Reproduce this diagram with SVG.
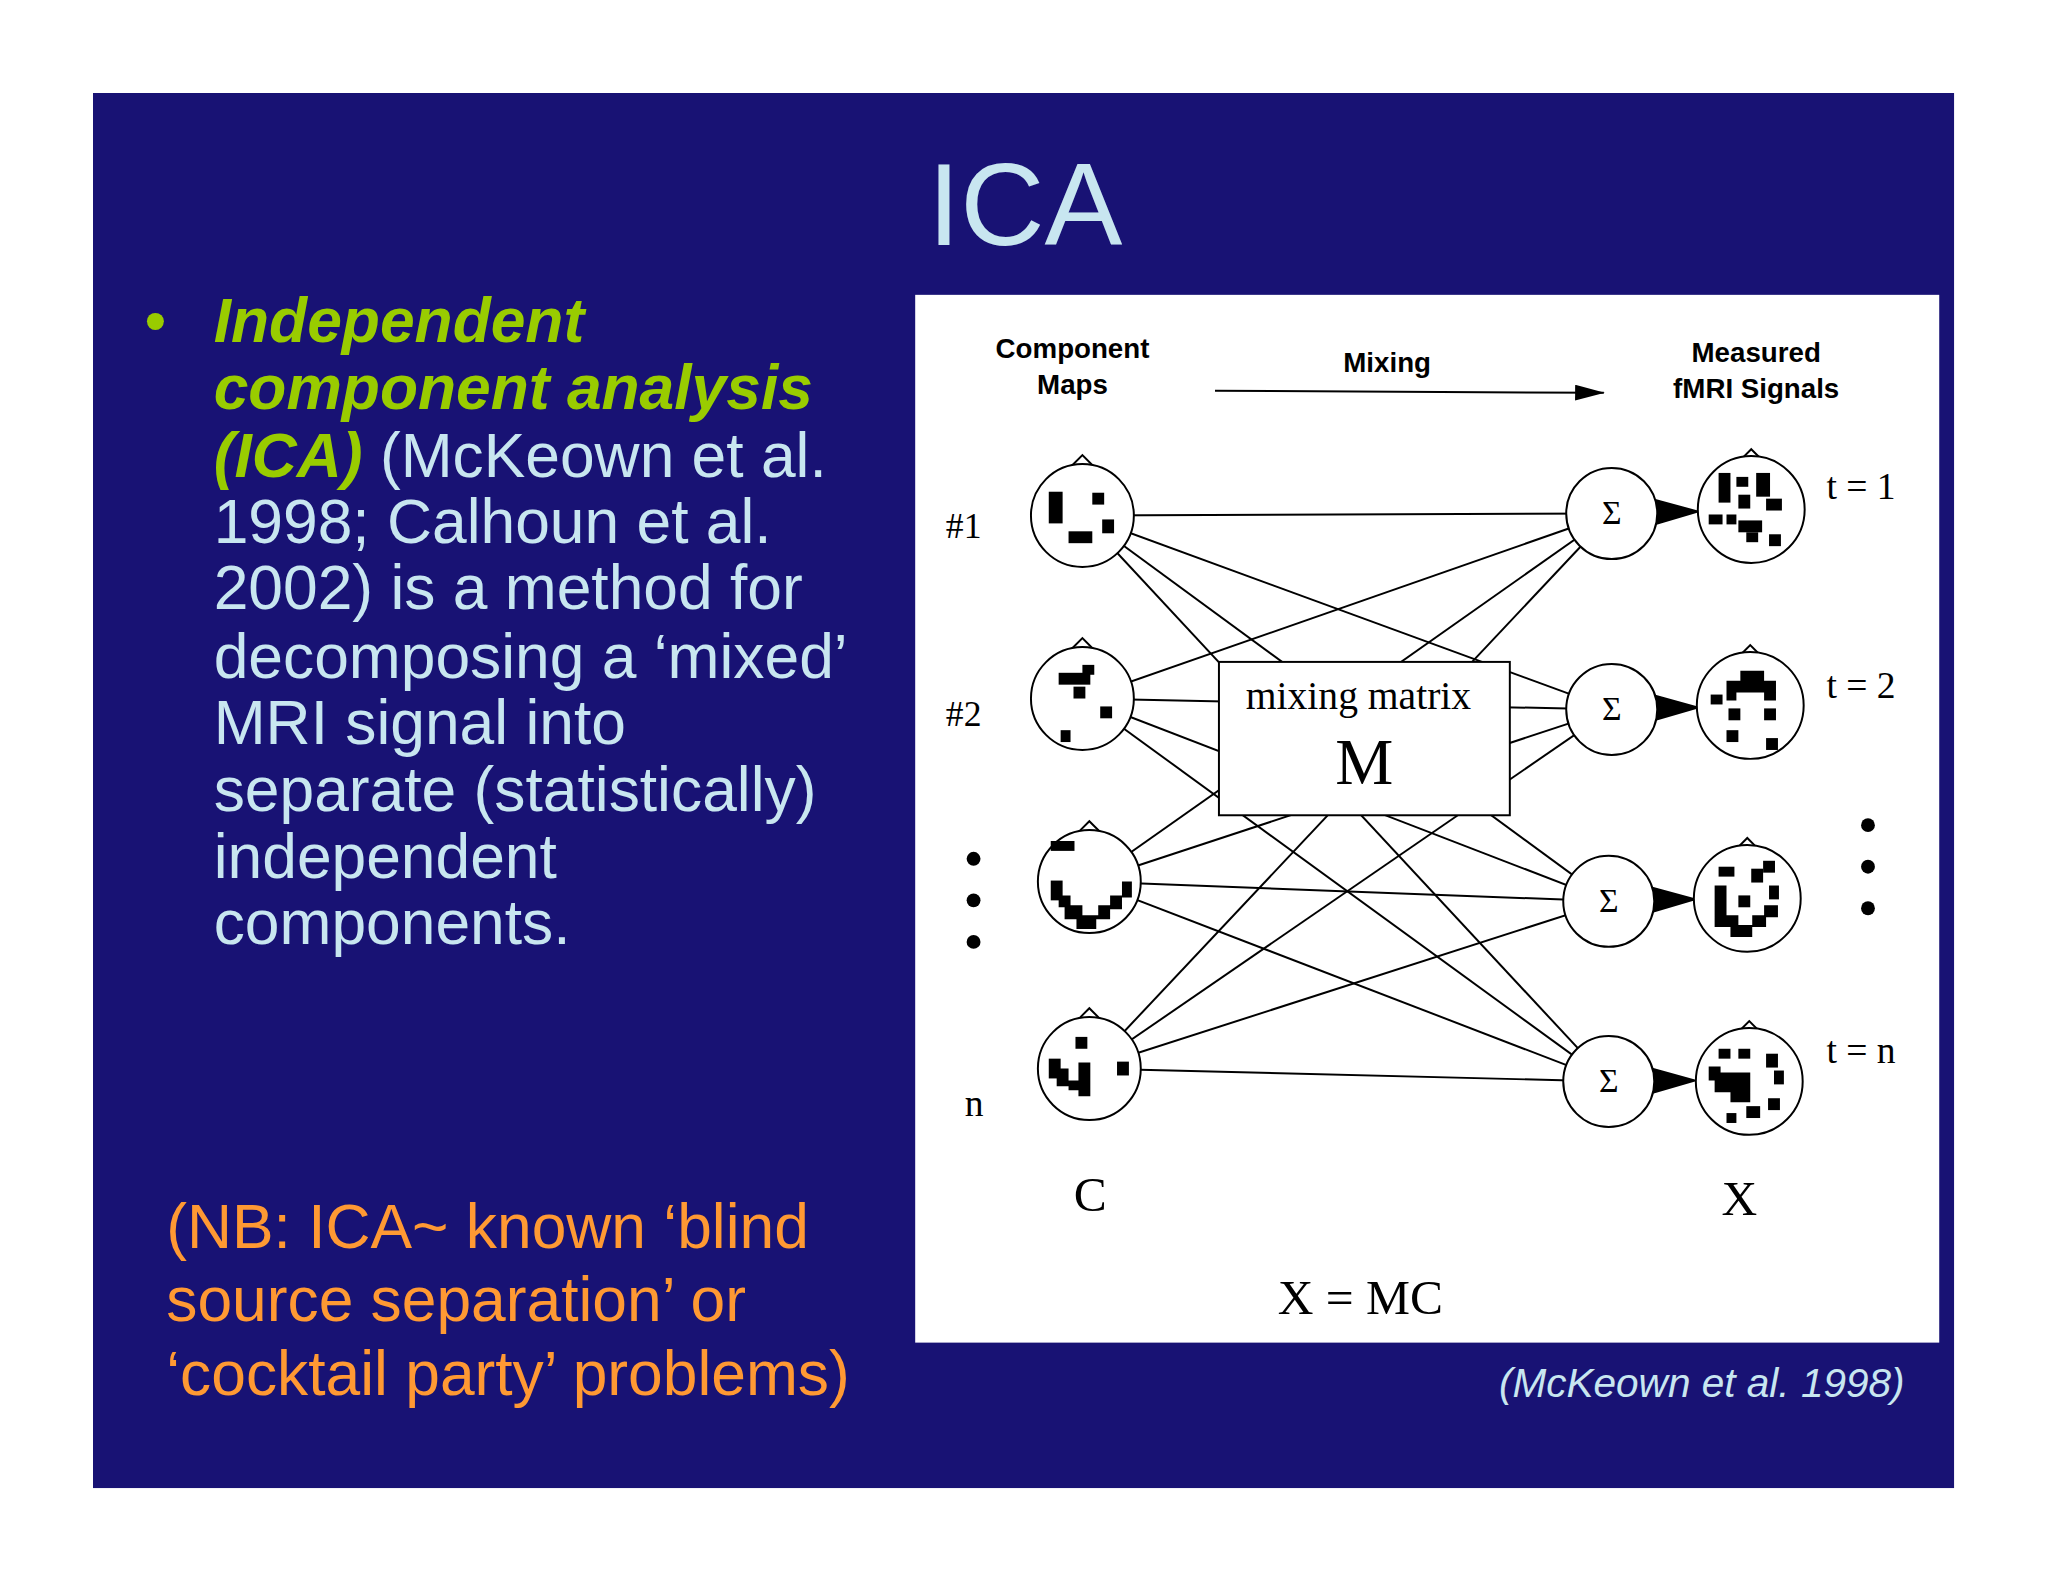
<svg xmlns="http://www.w3.org/2000/svg" width="2048" height="1582" viewBox="0 0 2048 1582">
<style>
.w{fill:#fff;stroke:#000;stroke-width:2}
.c{stroke:#000;stroke-width:2}
.s{font-family:"Liberation Serif",serif;fill:#000}
.b{font-family:"Liberation Sans",Arial,sans-serif;font-weight:bold;fill:#000;font-size:28px;text-anchor:middle}
.t{font-family:"Liberation Sans",Arial,sans-serif;font-size:63px}
.k{fill:#000}
</style>
<defs>
<marker id="ah" markerWidth="30" markerHeight="16" refX="29" refY="8" orient="auto" markerUnits="userSpaceOnUse" viewBox="0 0 30 16"><path d="M0,0L30,8L0,16z"/></marker>
</defs>
<rect width="2048" height="1582" fill="#fff"/>
<g transform="scale(0.9894)">
<rect x="94" y="94" width="1881" height="1410" fill="#181274"/>
<text x="1036" y="248" font-family="Liberation Sans,Arial,sans-serif" font-size="118" fill="#c8e6f0" text-anchor="middle">ICA</text>
<g id="bullet" class="t">
<text x="146" y="346" fill="#99cc00">•</text>
<text x="216" y="346" fill="#99cc00" font-weight="bold" font-style="italic">Independent</text>
<text x="216" y="413" fill="#99cc00" font-weight="bold" font-style="italic">component analysis</text>
<text x="216" y="482" fill="#c8e6f0"><tspan fill="#99cc00" font-weight="bold" font-style="italic">(ICA)</tspan> (McKeown et al.</text>
<text x="216" y="549" fill="#c8e6f0">1998; Calhoun et al.</text>
<text x="216" y="616" fill="#c8e6f0">2002) is a method for</text>
<text x="216" y="685" fill="#c8e6f0">decomposing a ‘mixed’</text>
<text x="216" y="752" fill="#c8e6f0">MRI signal into</text>
<text x="216" y="820" fill="#c8e6f0">separate (statistically)</text>
<text x="216" y="887" fill="#c8e6f0">independent</text>
<text x="216" y="954" fill="#c8e6f0">components.</text>
</g>
<g id="nb" class="t" fill="#ff9933">
<text x="168" y="1261">(NB: ICA~ known ‘blind</text>
<text x="168" y="1335">source separation’ or</text>
<text x="168" y="1410">‘cocktail party’ problems)</text>
</g>
<text x="1925" y="1412" font-family="Liberation Sans,Arial,sans-serif" font-style="italic" font-size="41" fill="#c8e6f0" text-anchor="end">(McKeown et al. 1998)</text>
<rect x="925" y="298" width="1035" height="1059" fill="#fff"/>
<g id="headers">
<text class="b" x="1084" y="362">Component</text>
<text class="b" x="1084" y="398">Maps</text>
<text class="b" x="1402" y="376">Mixing</text>
<text class="b" x="1775" y="366">Measured</text>
<text class="b" x="1775" y="402">fMRI Signals</text>
<line class="c" x1="1228" y1="395" x2="1621" y2="397" marker-end="url(#ah)"/>
</g>
<g id="connectors" class="c">
<line x1="1094" y1="521" x2="1629" y2="519"/><line x1="1094" y1="521" x2="1629" y2="717"/><line x1="1094" y1="521" x2="1626" y2="911"/><line x1="1094" y1="521" x2="1626" y2="1093"/>
<line x1="1094" y1="706" x2="1629" y2="519"/><line x1="1094" y1="706" x2="1629" y2="717"/><line x1="1094" y1="706" x2="1626" y2="911"/><line x1="1094" y1="706" x2="1626" y2="1093"/>
<line x1="1101" y1="891" x2="1629" y2="519"/><line x1="1101" y1="891" x2="1629" y2="717"/><line x1="1101" y1="891" x2="1626" y2="911"/><line x1="1101" y1="891" x2="1626" y2="1093"/>
<line x1="1101" y1="1080" x2="1629" y2="519"/><line x1="1101" y1="1080" x2="1629" y2="717"/><line x1="1101" y1="1080" x2="1626" y2="911"/><line x1="1101" y1="1080" x2="1626" y2="1093"/>
<path d="M1672,505L1716,517L1672,530z"/><path d="M1672,703L1716,715L1672,728z"/><path d="M1669,897L1713,909L1669,922z"/><path d="M1669,1080L1713,1092L1669,1105z"/>
</g>
<g id="matrix">
<rect class="w" x="1232" y="669" width="294" height="155"/>
<text class="s" x="1373" y="717" font-size="40" text-anchor="middle">mixing matrix</text>
<text class="s" x="1379" y="792" font-size="66" text-anchor="middle">M</text>
</g>
<g id="comp1"><path class="w" d="M1084,470L1094,460L1104,470z"/><circle class="w" cx="1094" cy="521" r="52"/><rect class="k" x="1060" y="497" width="14" height="32"/><rect class="k" x="1104" y="498" width="12" height="12"/><rect class="k" x="1080" y="537" width="24" height="12"/><rect class="k" x="1114" y="525" width="12" height="14"/></g>
<g id="comp2"><path class="w" d="M1084,655L1094,645L1104,655z"/><circle class="w" cx="1094" cy="706" r="52"/><rect class="k" x="1070" y="680" width="32" height="12"/><rect class="k" x="1094" y="672" width="12" height="10"/><rect class="k" x="1085" y="694" width="12" height="12"/><rect class="k" x="1112" y="714" width="12" height="12"/><rect class="k" x="1072" y="738" width="10" height="12"/></g>
<g id="comp3"><path class="w" d="M1091,840L1101,830L1111,840z"/><circle class="w" cx="1101" cy="891" r="52"/><rect class="k" x="1062" y="850" width="24" height="10"/><rect class="k" x="1062" y="890" width="12" height="20"/><path class="k" d="M1070,905h12v10h12v10h16v-10h12v-10h12v-14h10v16h-10v12h-12v10h-14v10h-20v-10h-12v-12h-6z"/></g>
<g id="compn"><path class="w" d="M1091,1029L1101,1019L1111,1029z"/><circle class="w" cx="1101" cy="1080" r="52"/><rect class="k" x="1087" y="1048" width="12" height="12"/><rect class="k" x="1060" y="1070" width="12" height="20"/><path class="k" d="M1068,1080h12v12h10v-18h12v34h-12v-6h-10v-4h-12z"/><rect class="k" x="1129" y="1073" width="12" height="14"/></g>
<g id="sig1"><circle class="w" cx="1629" cy="519" r="46"/><text class="s" x="1629" y="530" font-size="34" text-anchor="middle">Σ</text></g>
<g id="sig2"><circle class="w" cx="1629" cy="717" r="46"/><text class="s" x="1629" y="728" font-size="34" text-anchor="middle">Σ</text></g>
<g id="sig3"><circle class="w" cx="1626" cy="911" r="46"/><text class="s" x="1626" y="922" font-size="34" text-anchor="middle">Σ</text></g>
<g id="sign"><circle class="w" cx="1626" cy="1093" r="46"/><text class="s" x="1626" y="1104" font-size="34" text-anchor="middle">Σ</text></g>
<g id="meas1"><path class="w" d="M1760,464L1770,454L1780,464z"/><circle class="w" cx="1770" cy="515" r="54"/><rect class="k" x="1737" y="478" width="12" height="30"/><rect class="k" x="1755" y="482" width="12" height="10"/><rect class="k" x="1775" y="478" width="14" height="24"/><rect class="k" x="1757" y="500" width="12" height="14"/><rect class="k" x="1785" y="504" width="16" height="12"/><rect class="k" x="1727" y="520" width="14" height="10"/><rect class="k" x="1757" y="526" width="24" height="12"/><rect class="k" x="1765" y="538" width="12" height="10"/><rect class="k" x="1788" y="540" width="12" height="12"/><rect class="k" x="1745" y="520" width="10" height="10"/></g>
<g id="meas2"><path class="w" d="M1759,662L1769,652L1779,662z"/><circle class="w" cx="1769" cy="713" r="54"/><path class="k" d="M1745,688h14v-10h24v10h12v20h-12v-8h-28v8h-10z"/><rect class="k" x="1729" y="702" width="12" height="10"/><rect class="k" x="1747" y="716" width="12" height="12"/><rect class="k" x="1783" y="716" width="12" height="12"/><rect class="k" x="1745" y="738" width="12" height="12"/><rect class="k" x="1785" y="746" width="12" height="12"/></g>
<g id="meas3"><path class="w" d="M1756,857L1766,847L1776,857z"/><circle class="w" cx="1766" cy="908" r="54"/><rect class="k" x="1737" y="876" width="16" height="10"/><rect class="k" x="1770" y="878" width="12" height="14"/><rect class="k" x="1782" y="870" width="12" height="12"/><path class="k" d="M1733,895h12v30h12v10h14v-10h12v-10h14v12h-12v10h-14v10h-22v-10h-16z"/><rect class="k" x="1788" y="895" width="10" height="14"/><rect class="k" x="1757" y="905" width="12" height="12"/></g>
<g id="measn"><path class="w" d="M1758,1042L1768,1032L1778,1042z"/><circle class="w" cx="1768" cy="1093" r="54"/><rect class="k" x="1737" y="1060" width="12" height="10"/><rect class="k" x="1757" y="1060" width="12" height="10"/><rect class="k" x="1785" y="1065" width="12" height="14"/><path class="k" d="M1727,1078h12v6h30v30h-20v-10h-16v-12h-6z"/><rect class="k" x="1793" y="1082" width="10" height="14"/><rect class="k" x="1765" y="1118" width="14" height="12"/><rect class="k" x="1787" y="1110" width="12" height="12"/><rect class="k" x="1745" y="1125" width="10" height="10"/></g>
<g id="labels" class="s">
<text x="956" y="544" font-size="36">#1</text>
<text x="956" y="734" font-size="36">#2</text>
<circle cx="984" cy="868" r="7"/><circle cx="984" cy="910" r="7"/><circle cx="984" cy="952" r="7"/>
<text x="975" y="1128" font-size="38">n</text>
<text x="1102" y="1224" font-size="50" text-anchor="middle">C</text>
<text x="1758" y="1228" font-size="50" text-anchor="middle">X</text>
<text x="1375" y="1328" font-size="50" text-anchor="middle">X = MC</text>
<text x="1846" y="504" font-size="38">t = 1</text>
<text x="1846" y="705" font-size="38">t = 2</text>
<circle cx="1888" cy="834" r="7"/><circle cx="1888" cy="876" r="7"/><circle cx="1888" cy="918" r="7"/>
<text x="1846" y="1074" font-size="38">t = n</text>
</g>
</g>
</svg>
